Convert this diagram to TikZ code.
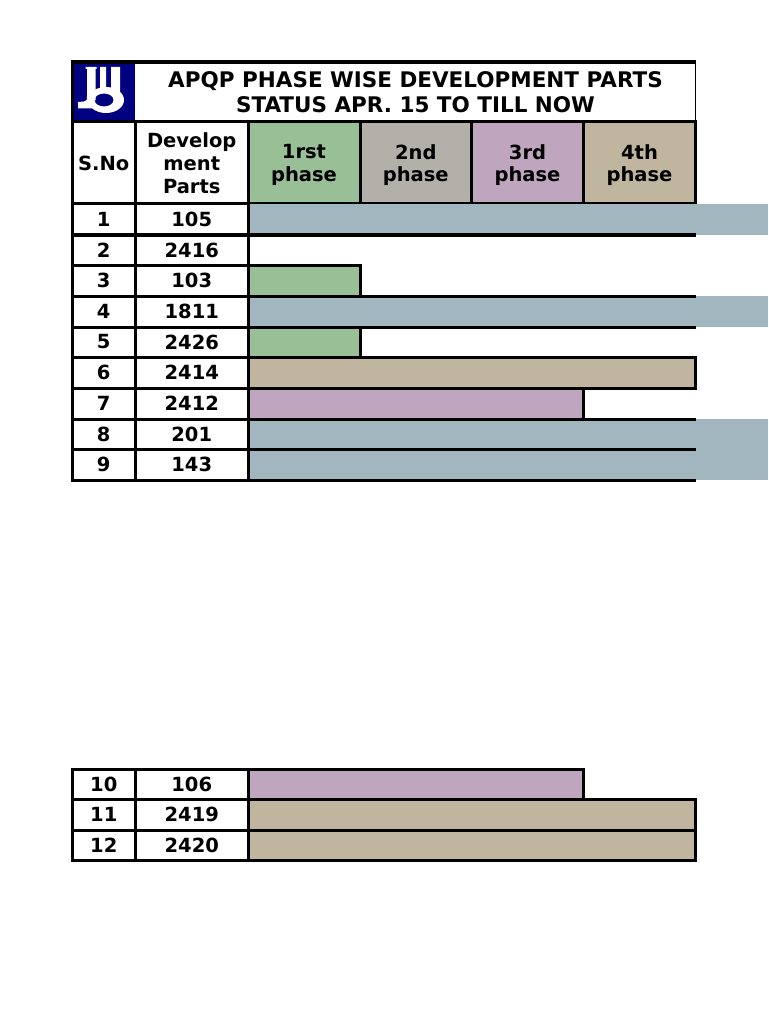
\documentclass[tikz,border=0pt]{standalone}
\usepackage{xcolor}
\usepackage{fontspec}
\setmainfont{DejaVu Sans}
\definecolor{phaseone}{HTML}{98BF95}
\definecolor{phasetwo}{HTML}{B2B0A8}
\definecolor{phasethree}{HTML}{BFA6BE}
\definecolor{phasefour}{HTML}{C0B69F}
\definecolor{doneblue}{HTML}{A1B6BE}
\definecolor{logoblue}{HTML}{000080}
\tikzset{
  cellbox/.style={draw, rectangle, line width=3pt, anchor=north west, inner sep=0pt, outer sep=0pt, align=center, font=\fontsize{19.5}{22.8}\selectfont\bfseries},
  snocell/.style={cellbox, minimum width=63.5pt},
  partcell/.style={cellbox, minimum width=112.5pt},
  headcell/.style={cellbox, minimum height=82pt},
  phasecell/.style={headcell, text depth=-2pt},
  barcell/.style={rectangle, anchor=north west, inner sep=0pt, outer sep=0pt, fill=doneblue, minimum width=520pt},
  rowrule/.style={line width=3pt}
}
\begin{document}
\begin{tikzpicture}[x=1pt, y=-1pt]
  \useasboundingbox (0,0) rectangle (768,1024);
  % title
  \node[fill=logoblue, minimum width=63pt, minimum height=58pt, inner sep=0pt, outer sep=0pt, anchor=north west] (logo) at (72,62) {};
  \fill[white] (85.5,67) rectangle (96.5,69) (87,67) rectangle (95.5,100) (100,67) rectangle (106,93) (111,67) rectangle (120,93);
  \fill[white] (78,108.5) -- (78,102) -- (84,101.5) .. controls (87,101) and (87,100) .. (87,96) -- (95,96) -- (95,108.5) -- cycle;
  \fill[white, even odd rule] (106,100) ellipse (18pt and 13pt) (104,100) ellipse (9.5pt and 6.5pt);
  \node[inner sep=0pt, outer sep=0pt, align=center, font=\fontsize{21.5}{25}\selectfont\bfseries] (title) at (415.5,92.5) {APQP PHASE WISE DEVELOPMENT PARTS\\STATUS APR. 15 TO TILL NOW};
  \draw[line width=3.5pt] (71,62) -- (696,62);
  \draw[line width=1pt] (695.5,62) -- (695.5,122);
  \draw[rowrule] (72,62) -- (72,122);
  % header
  \node[snocell, headcell] (sno) at (72,122) {S.No};
  \node[partcell, headcell] (parts) at (135.5,122) {Develop\\ment\\Parts};
  \node[phasecell, fill=phaseone, minimum width=112pt] (first) at (248,122) {1rst\\phase};
  \node[phasecell, fill=phasetwo, minimum width=111.5pt] (second) at (360,122) {2nd\\phase};
  \node[phasecell, fill=phasethree, minimum width=112pt] (third) at (471.5,122) {3rd\\phase};
  \node[phasecell, fill=phasefour, minimum width=112pt] (fourth) at (583.5,122) {4th\\phase};
  % blue bars run past the table
  \node[barcell, minimum height=31pt] (bara) at (248,204) {};
  \node[barcell, minimum height=31pt] (bard) at (248,296) {};
  \node[barcell, minimum height=30pt] (barh) at (248,419) {};
  \node[barcell, minimum height=31pt] (bari) at (248,449) {};
  \draw[rowrule] (bara.south west) -- (bara.south west -| fourth.east);
  \draw[rowrule] (bard.north west) -- (bard.north west -| fourth.east);
  \draw[rowrule] (bard.south west) -- (bard.south west -| fourth.east);
  \draw[rowrule] (barh.north west) -- (barh.north west -| fourth.east);
  \draw[rowrule] (bari.north west) -- (bari.north west -| fourth.east);
  \draw[rowrule] (bari.south west) -- (bari.south west -| fourth.east);
  % rows
  \node[snocell, minimum height=31pt] (snoa) at (72,204) {1};
  \node[partcell, minimum height=31pt] (parta) at (135.5,204) {105};
  \node[snocell, minimum height=30pt] (snob) at (72,235) {2};
  \node[partcell, minimum height=30pt] (partb) at (135.5,235) {2416};
  \node[snocell, minimum height=31pt] (snoc) at (72,265) {3};
  \node[partcell, minimum height=31pt] (partc) at (135.5,265) {103};
  \node[cellbox, fill=phaseone, minimum width=112pt, minimum height=31pt] (barc) at (248,265) {};
  \node[snocell, minimum height=31pt] (snod) at (72,296) {4};
  \node[partcell, minimum height=31pt] (partd) at (135.5,296) {1811};
  \node[snocell, minimum height=30pt] (snoe) at (72,327) {5};
  \node[partcell, minimum height=30pt] (parte) at (135.5,327) {2426};
  \node[cellbox, fill=phaseone, minimum width=112pt, minimum height=30pt] (bare) at (248,327) {};
  \node[snocell, minimum height=31pt] (snof) at (72,357) {6};
  \node[partcell, minimum height=31pt] (partf) at (135.5,357) {2414};
  \node[cellbox, fill=phasefour, minimum width=447.5pt, minimum height=31pt] (barf) at (248,357) {};
  \node[snocell, minimum height=31pt] (snog) at (72,388) {7};
  \node[partcell, minimum height=31pt] (partg) at (135.5,388) {2412};
  \node[cellbox, fill=phasethree, minimum width=335.5pt, minimum height=31pt] (barg) at (248,388) {};
  \node[snocell, minimum height=30pt] (snoh) at (72,419) {8};
  \node[partcell, minimum height=30pt] (parth) at (135.5,419) {201};
  \node[snocell, minimum height=31pt] (snoi) at (72,449) {9};
  \node[partcell, minimum height=31pt] (parti) at (135.5,449) {143};
  % rows after the gap
  \node[snocell, minimum height=30pt] (snoj) at (72,769) {10};
  \node[partcell, minimum height=30pt] (partj) at (135.5,769) {106};
  \node[cellbox, fill=phasethree, minimum width=335.5pt, minimum height=30pt] (barj) at (248,769) {};
  \node[snocell, minimum height=31pt] (snok) at (72,799) {11};
  \node[partcell, minimum height=31pt] (partk) at (135.5,799) {2419};
  \node[cellbox, fill=phasefour, minimum width=447.5pt, minimum height=31pt] (bark) at (248,799) {};
  \node[snocell, minimum height=30.5pt] (snol) at (72,830) {12};
  \node[partcell, minimum height=30.5pt] (partl) at (135.5,830) {2420};
  \node[cellbox, fill=phasefour, minimum width=447.5pt, minimum height=30.5pt] (barl) at (248,830) {};
\end{tikzpicture}
\end{document}
